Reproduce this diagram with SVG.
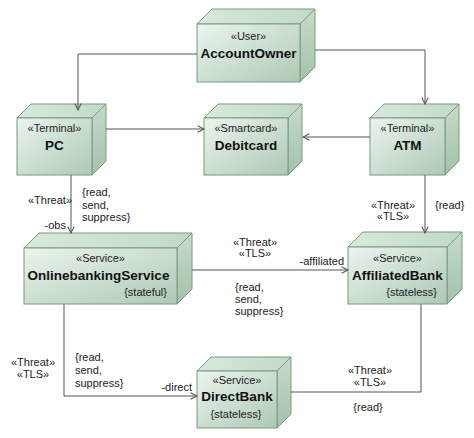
<svg xmlns="http://www.w3.org/2000/svg" width="474" height="438" viewBox="0 0 474 438">
<defs>
<linearGradient id="gf" x1="0" y1="0" x2="1" y2="1">
<stop offset="0" stop-color="#ecf4ee"/>
<stop offset="1" stop-color="#acc9b4"/>
</linearGradient>
<linearGradient id="gt" x1="0" y1="0" x2="1" y2="0">
<stop offset="0" stop-color="#d8e9dc"/>
<stop offset="1" stop-color="#c2d9c8"/>
</linearGradient>
<linearGradient id="gs" x1="0" y1="0" x2="0" y2="1">
<stop offset="0" stop-color="#c6dbcb"/>
<stop offset="1" stop-color="#a3c1ab"/>
</linearGradient>
<marker id="arr" viewBox="0 0 10 10" refX="9" refY="5" markerWidth="8" markerHeight="8" markerUnits="userSpaceOnUse" orient="auto">
<path d="M1,1 L9,5 L1,9" fill="none" stroke="#555" stroke-width="1.3"/>
</marker>
</defs>
<style>
.front{fill:url(#gf);stroke:#789a80;stroke-width:1}
.top{fill:url(#gt);stroke:#789a80;stroke-width:1}
.side{fill:url(#gs);stroke:#789a80;stroke-width:1}
.st{font-family:"Liberation Sans",Arial,sans-serif;font-size:11px;fill:#222;text-anchor:middle}
.nm{font-family:"Liberation Sans",Arial,sans-serif;font-size:13.5px;font-weight:bold;fill:#111;text-anchor:middle}
.lb{font-family:"Liberation Sans",Arial,sans-serif;font-size:11px;fill:#222}
.c{fill:none;stroke:#555;stroke-width:1}
</style>
<g id="AccountOwner">
<polygon class="top" points="197,24 212,9 315,9 300,24"/>
<polygon class="side" points="300,24 315,9 315,67 300,82"/>
<rect class="front" x="197" y="24" width="103" height="58"/>
<text class="st" x="248.5" y="40">«User»</text>
<text class="nm" x="248.5" y="58">AccountOwner</text>
</g>
<g id="PC">
<polygon class="top" points="17,118 31,104 106,104 92,118"/>
<polygon class="side" points="92,118 106,104 106,161 92,175"/>
<rect class="front" x="17" y="118" width="75" height="57"/>
<text class="st" x="54.5" y="132">«Terminal»</text>
<text class="nm" x="54.5" y="150">PC</text>
</g>
<g id="Debitcard">
<polygon class="top" points="204,118 218,104 302,104 288,118"/>
<polygon class="side" points="288,118 302,104 302,161 288,175"/>
<rect class="front" x="204" y="118" width="84" height="57"/>
<text class="st" x="246" y="132">«Smartcard»</text>
<text class="nm" x="246" y="150">Debitcard</text>
</g>
<g id="ATM">
<polygon class="top" points="370,118 384,104 459,104 445,118"/>
<polygon class="side" points="445,118 459,104 459,161 445,175"/>
<rect class="front" x="370" y="118" width="75" height="57"/>
<text class="st" x="407.5" y="132">«Terminal»</text>
<text class="nm" x="407.5" y="150">ATM</text>
</g>
<g id="OnlinebankingService">
<polygon class="top" points="24,248 39,233 192,233 177,248"/>
<polygon class="side" points="177,248 192,233 192,289 177,304"/>
<rect class="front" x="24" y="248" width="153" height="56"/>
<text class="st" x="100.5" y="262">«Service»</text>
<text class="nm" x="98.5" y="280">OnlinebankingService</text>
<text class="lb" x="167" y="296" text-anchor="end">{stateful}</text>
</g>
<g id="AffiliatedBank">
<polygon class="top" points="348,247 363,232 462,232 447,247"/>
<polygon class="side" points="447,247 462,232 462,289 447,304"/>
<rect class="front" x="348" y="247" width="99" height="57"/>
<text class="st" x="397.5" y="262">«Service»</text>
<text class="nm" x="397.5" y="280">AffiliatedBank</text>
<text class="lb" x="437" y="296" text-anchor="end">{stateless}</text>
</g>
<g id="DirectBank">
<polygon class="top" points="197,371 211,357 291,357 277,371"/>
<polygon class="side" points="277,371 291,357 291,414 277,428"/>
<rect class="front" x="197" y="371" width="80" height="57"/>
<text class="st" x="237" y="384">«Service»</text>
<text class="nm" x="237" y="401">DirectBank</text>
<text class="st" x="236" y="418">{stateless}</text>
</g>
<g id="connectors">
<path class="c" d="M197,54 H78 V110" marker-end="url(#arr)"/>
<path class="c" d="M315,50 H425 V104" marker-end="url(#arr)"/>
<path class="c" d="M106,129 H204" marker-end="url(#arr)"/>
<path class="c" d="M370,137 H303" marker-end="url(#arr)"/>
<path class="c" d="M71,175 V233" marker-end="url(#arr)"/>
<path class="c" d="M425,175 V233" marker-end="url(#arr)"/>
<path class="c" d="M192,270 H348" marker-end="url(#arr)"/>
<path class="c" d="M64,304 V396 H197" marker-end="url(#arr)"/>
<path class="c" d="M421,304 V392 H291"/>
<text class="lb" x="72" y="204" text-anchor="end">«Threat»</text>
<text class="lb" x="82" y="196">{read,</text>
<text class="lb" x="82" y="209">send,</text>
<text class="lb" x="82" y="221">suppress}</text>
<text class="lb" x="66" y="229" text-anchor="end">-obs</text>
<text class="st" x="393" y="209">«Threat»</text>
<text class="st" x="393" y="220">«TLS»</text>
<text class="lb" x="435" y="209">{read}</text>
<text class="st" x="255" y="246">«Threat»</text>
<text class="st" x="255" y="257">«TLS»</text>
<text class="lb" x="344" y="265" text-anchor="end">-affiliated</text>
<text class="lb" x="235" y="291">{read,</text>
<text class="lb" x="235" y="303">send,</text>
<text class="lb" x="235" y="315">suppress}</text>
<text class="st" x="33" y="366">«Threat»</text>
<text class="st" x="33" y="378">«TLS»</text>
<text class="lb" x="75" y="361">{read,</text>
<text class="lb" x="75" y="374">send,</text>
<text class="lb" x="75" y="387">suppress}</text>
<text class="lb" x="192" y="391" text-anchor="end">-direct</text>
<text class="st" x="370" y="374">«Threat»</text>
<text class="st" x="370" y="386">«TLS»</text>
<text class="st" x="368" y="411">{read}</text>
</g>
</svg>
